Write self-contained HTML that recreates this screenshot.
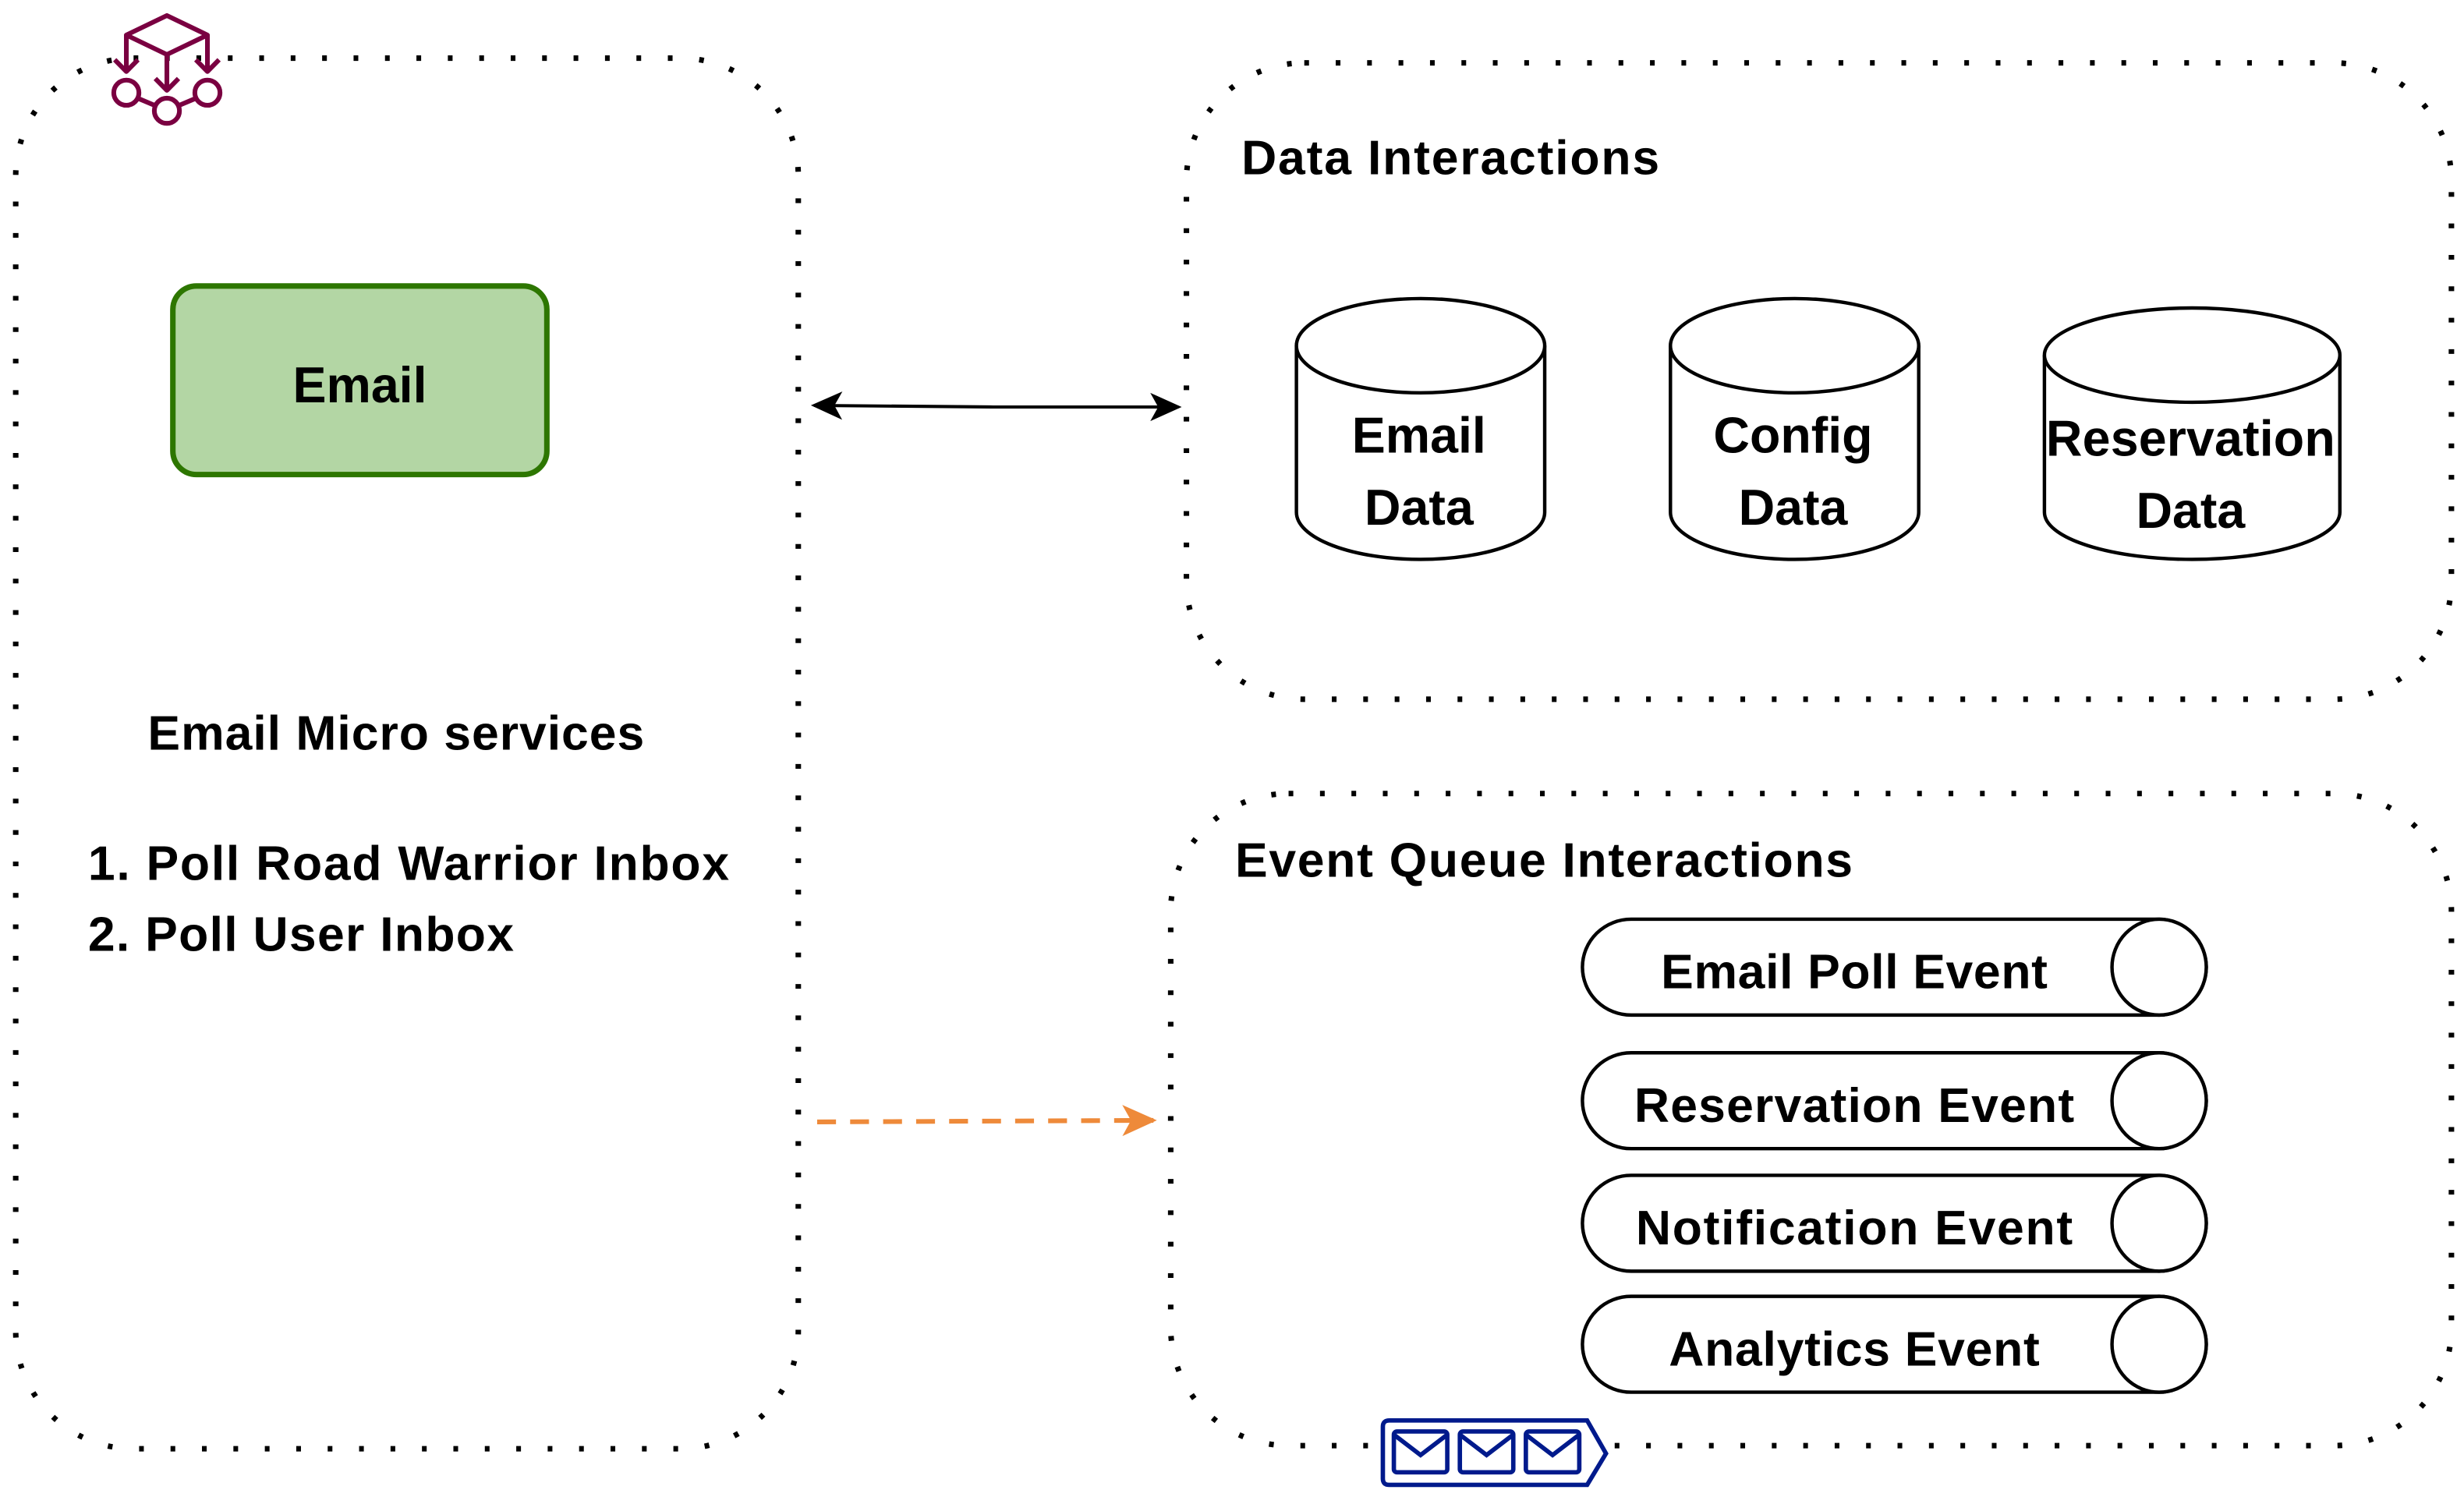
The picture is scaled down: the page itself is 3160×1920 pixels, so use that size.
<!DOCTYPE html>
<html><head><meta charset="utf-8"><style>html,body{margin:0;padding:0;background:#fff;}svg{display:block}</style></head>
<body>
<svg width="3160" height="1920" viewBox="0 0 1568 952.7" preserveAspectRatio="none" xmlns="http://www.w3.org/2000/svg" font-family="'Liberation Sans', 'DejaVu Sans', sans-serif" font-weight="bold">
<defs>
<marker id="ah" viewBox="0 0 20 20" refX="18" refY="10" markerWidth="20" markerHeight="20" markerUnits="userSpaceOnUse" orient="auto-start-reverse">
<path d="M0,1 L20,10 L0,19 L5,10 Z" fill="#000"/></marker>
<marker id="ao" viewBox="0 0 20 20" refX="18" refY="10" markerWidth="22" markerHeight="22" markerUnits="userSpaceOnUse" orient="auto">
<path d="M0,1 L20,10 L0,19 L5,10 Z" fill="#ee8a3a"/></marker>
</defs>
<g fill="none" stroke="#000" stroke-width="3.5" stroke-dasharray="3 17" stroke-linecap="butt">
<rect x="10" y="37" width="498" height="885" rx="75"/>
<rect x="755" y="40" width="805" height="405" rx="75"/>
<rect x="745" y="505" width="815" height="415" rx="75"/>
</g>
<!-- top-left icon -->
<g fill="none" stroke="#7a0041" stroke-width="3" stroke-linejoin="round">
<path d="M80.4,22.3 L106.2,9.9 L132,22.3 L106.2,34.7 Z"/>
<path d="M80.4,22.3 L80.4,45.5 M73,38 L80.4,45.5 L87.8,38"/>
<path d="M106.2,34.7 L106.2,57.5 M98.8,50 L106.2,57.5 L113.6,50"/>
<path d="M132,22.3 L132,45.5 M124.6,38 L132,45.5 L139.4,38"/>
<circle cx="80.4" cy="59" r="8"/>
<circle cx="106.2" cy="70.5" r="8"/>
<circle cx="132" cy="59" r="8"/>
<path d="M87.6,62.5 L99,67.3 M113.4,67.3 L124.8,62.5"/>
</g>
<!-- email box -->
<rect x="110" y="182" width="238" height="120" rx="15" fill="#b3d6a4" stroke="#2d7600" stroke-width="3.5"/>
<text x="229" y="256" font-size="32" text-anchor="middle">Email</text>
<text x="252" y="477" font-size="31" text-anchor="middle" textLength="316">Email Micro services</text>
<text x="56" y="560" font-size="31" textLength="408">1. Poll Road Warrior Inbox</text>
<text x="56" y="605" font-size="31" textLength="271">2. Poll User Inbox</text>
<!-- arrows -->
<path d="M518,258 L632,259 L750,259" fill="none" stroke="#000" stroke-width="2" marker-start="url(#ah)" marker-end="url(#ah)"/>
<path d="M520,714 L734,713" fill="none" stroke="#ee8a3a" stroke-width="3" stroke-dasharray="12 9" marker-end="url(#ao)"/>
<text x="790" y="111" font-size="31" textLength="266">Data Interactions</text>
<text x="786" y="558" font-size="31" textLength="393">Event Queue Interactions</text>
<!-- cylinders -->
<g fill="#fff" stroke="#000" stroke-width="2.2">
<path d="M825,220 L825,326 A79,30 0 0 0 983,326 L983,220"/>
<ellipse cx="904" cy="220" rx="79" ry="30"/>
<path d="M1063,220 L1063,326 A79,30 0 0 0 1221,326 L1221,220"/>
<ellipse cx="1142" cy="220" rx="79" ry="30"/>
<path d="M1301,226 L1301,326 A94,30 0 0 0 1489,326 L1489,226"/>
<ellipse cx="1395" cy="226" rx="94" ry="30"/>
</g>
<g font-size="32" text-anchor="middle">
<text x="903" y="288">Email</text><text x="903" y="334">Data</text>
<text x="1141" y="288">Config</text><text x="1141" y="334">Data</text>
<text x="1394" y="290" textLength="184">Reservation</text><text x="1394" y="336">Data</text>
</g>
<!-- event pipes -->
<g fill="#fff" stroke="#000" stroke-width="2.2">
<path d="M1038,585 L1374,585 A30,30.5 0 0 1 1374,646 L1038,646 A31,30.5 0 0 1 1038,585 Z"/><ellipse cx="1374" cy="615.5" rx="30" ry="30.5"/>
<path d="M1038,670 L1374,670 A30,30.5 0 0 1 1374,731 L1038,731 A31,30.5 0 0 1 1038,670 Z"/><ellipse cx="1374" cy="700.5" rx="30" ry="30.5"/>
<path d="M1038,748 L1374,748 A30,30.5 0 0 1 1374,809 L1038,809 A31,30.5 0 0 1 1038,748 Z"/><ellipse cx="1374" cy="778.5" rx="30" ry="30.5"/>
<path d="M1038,825 L1374,825 A30,30.5 0 0 1 1374,886 L1038,886 A31,30.5 0 0 1 1038,825 Z"/><ellipse cx="1374" cy="855.5" rx="30" ry="30.5"/>
</g>
<g font-size="31" text-anchor="middle">
<text x="1180" y="629" textLength="246">Email Poll Event</text>
<text x="1180" y="714" textLength="280">Reservation Event</text>
<text x="1180" y="792" textLength="278">Notification Event</text>
<text x="1180" y="869" textLength="236">Analytics Event</text>
</g>
<!-- bottom queue icon -->
<g fill="#fff" stroke="#001a8c" stroke-width="2.8">
<path d="M884,904 L1010,904 L1022,925 L1010,945 L884,945 Q880,945 880,941 L880,908 Q880,904 884,904 Z"/>
<rect x="887" y="911" width="34" height="26" rx="2"/>
<path d="M887,913 L904,926 L921,913"/>
<rect x="929" y="911" width="34" height="26" rx="2"/>
<path d="M929,913 L946,926 L963,913"/>
<rect x="971" y="911" width="34" height="26" rx="2"/>
<path d="M971,913 L988,926 L1005,913"/>
</g>
</svg>
</body></html>
